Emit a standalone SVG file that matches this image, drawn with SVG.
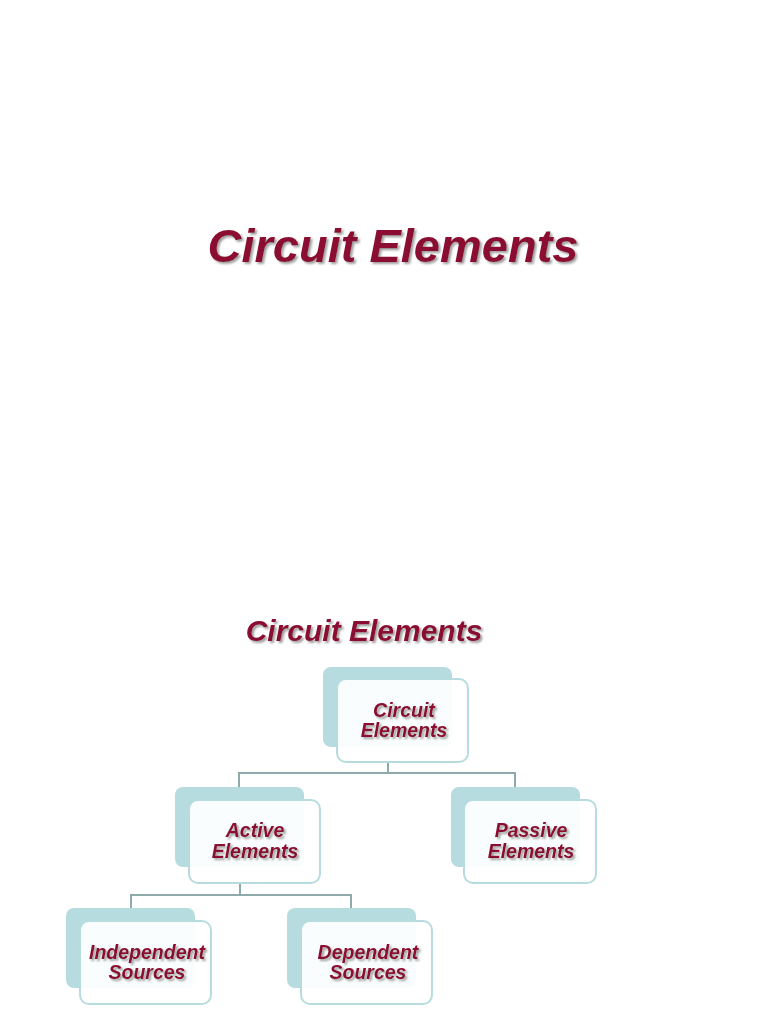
<svg xmlns="http://www.w3.org/2000/svg" width="768" height="1024" viewBox="0 0 768 1024">
<defs>
<filter id="sh" x="-10%" y="-10%" width="130%" height="140%"><feDropShadow dx="2" dy="2" stdDeviation="0.8" flood-color="#888" flood-opacity="0.8"/></filter>
</defs>
<style>
.t{font-family:"Liberation Sans",Arial,sans-serif;font-weight:bold;font-style:italic;fill:#8b0a32;text-anchor:middle;filter:url(#sh)}
.n{font-size:19.5px}
.b{fill:#b7dcdf}
.f{fill:#ffffff;fill-opacity:0.92;stroke:#b7dcdf;stroke-width:2}
.c{fill:none;stroke:#8eaaab;stroke-width:2}
</style>
<rect width="768" height="1024" fill="#fff"/>
<text class="t" x="393" y="262" font-size="47">Circuit Elements</text>
<text class="t" x="364" y="641" font-size="30">Circuit Elements</text>
<g id="connectors">
<path class="c" d="M388 762V773M239 787V773H515V787"/>
<path class="c" d="M240 883V895M131 908V895H351V908"/>
</g>
<g id="root"><rect class="b" x="323" y="667" width="129" height="80" rx="8"/><rect class="f" x="337" y="679" width="131" height="83" rx="9"/>
<text class="t n" x="404" y="717">Circuit</text><text class="t n" x="404" y="737">Elements</text></g>
<g id="active"><rect class="b" x="175" y="787" width="129" height="80" rx="8"/><rect class="f" x="189" y="800" width="131" height="83" rx="9"/>
<text class="t n" x="255" y="837">Active</text><text class="t n" x="255" y="858">Elements</text></g>
<g id="passive"><rect class="b" x="451" y="787" width="129" height="80" rx="8"/><rect class="f" x="464" y="800" width="132" height="83" rx="9"/>
<text class="t n" x="531" y="837">Passive</text><text class="t n" x="531" y="858">Elements</text></g>
<g id="independent"><rect class="b" x="66" y="908" width="129" height="80" rx="8"/><rect class="f" x="80" y="921" width="131" height="83" rx="9"/>
<text class="t n" x="147" y="959">Independent</text><text class="t n" x="147" y="979">Sources</text></g>
<g id="dependent"><rect class="b" x="287" y="908" width="129" height="80" rx="8"/><rect class="f" x="301" y="921" width="131" height="83" rx="9"/>
<text class="t n" x="368" y="959">Dependent</text><text class="t n" x="368" y="979">Sources</text></g>
</svg>
